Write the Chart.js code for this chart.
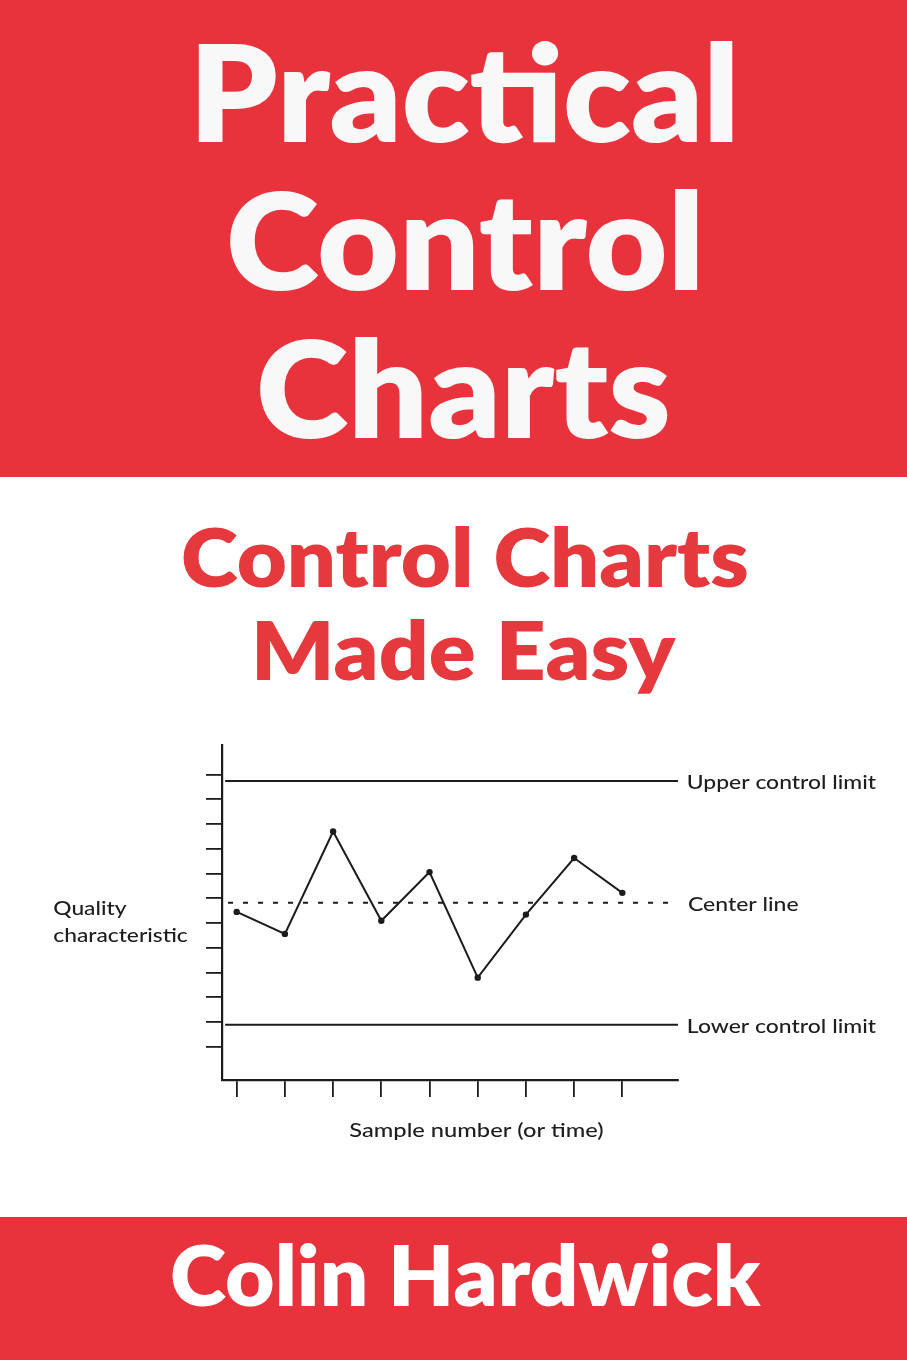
<!DOCTYPE html>
<html>
<head>
<meta charset="utf-8">
<script src="https://cdn.jsdelivr.net/npm/chart.js@4.4.1/dist/chart.umd.min.js"></script>
<style>
  html, body { margin: 0; padding: 0; background: #ffffff; }
  #page { position: relative; width: 907px; height: 1360px; overflow: hidden; background: #ffffff; }
  .band { position: absolute; left: 0; width: 907px; background: #E8333C; }
  .txt { position: absolute; white-space: nowrap; transform-origin: 0 0; margin: 0; padding: 0; }
  #chartBox { position: absolute; left: 0; top: 700px; width: 907px; height: 470px; }
</style>
</head>
<body>
<div id="page">
  <div class="band" style="top:0;height:477px"></div>
  <div class="band" style="top:1217px;height:143px"></div>
  <div id="t1" class="txt">Practical</div>
  <div id="t2" class="txt">Control</div>
  <div id="t3" class="txt">Charts</div>
  <div id="s1" class="txt">Control Charts</div>
  <div id="s2" class="txt">Made Easy</div>
  <div id="a1" class="txt">Colin Hardwick</div>
  <div id="chartBox"><canvas id="c" width="907" height="470"></canvas></div>
</div>
<script>
// ---- data ----
const sampleNumbers = [1, 2, 3, 4, 5, 6, 7, 8, 9];
const qualityValues = [6.45, 5.56, 9.70, 6.09, 8.06, 3.79, 6.34, 8.63, 7.22];
const upperControlLimit = 11.74;
const centerLine = 6.82;
const lowerControlLimit = 1.88;
const limitSpan = [0.76, 10.2];
const centerSpan = [0.82, 10.2];
const yTickValues = [1, 2, 3, 4, 5, 6, 7, 8, 9, 10, 11, 12];
const xTickValues = [1, 2, 3, 4, 5, 6, 7, 8, 9];
const limitLabels = ['Upper control limit', 'Center line', 'Lower control limit'];
const yAxisLabel = ['Quality', 'characteristic'];
const xAxisLabel = 'Sample number (or time)';

const FAMILY = 'Lato';
const INK = '#1c1c1c';
const measurer = document.createElement('canvas').getContext('2d');

function fitMetrics(text, weight, capH, inkWidth) {
  measurer.font = weight + ' 100px ' + FAMILY;
  const capRatio = measurer.measureText('H').actualBoundingBoxAscent / 100;
  const size = capH / capRatio;
  measurer.font = weight + ' ' + size + 'px ' + FAMILY;
  const m = measurer.measureText(text);
  const w = m.actualBoundingBoxLeft + m.actualBoundingBoxRight;
  return { size, sx: inkWidth ? inkWidth / w : 1, m };
}

function placeText(id, weight, capH, inkLeft, baseline, inkWidth, color) {
  const el = document.getElementById(id);
  const text = el.textContent;
  const f = fitMetrics(text, weight, capH, inkWidth);
  const asc = f.m.fontBoundingBoxAscent, desc = f.m.fontBoundingBoxDescent;
  el.style.font = weight + ' ' + f.size + 'px ' + FAMILY;
  el.style.lineHeight = (asc + desc) + 'px';
  el.style.top = (baseline - asc) + 'px';
  el.style.left = (inkLeft + f.m.actualBoundingBoxLeft * f.sx) + 'px';
  el.style.transform = 'scaleX(' + f.sx + ')';
  el.style.color = color;
}

placeText('t1', 800, 99, 198, 142, 534, '#F8F8F8');
placeText('t2', 800, 99, 230, 290, 467, '#F8F8F8');
placeText('t3', 800, 99, 260, 438, 408, '#F8F8F8');
placeText('s1', 800, 60.5, 182.7, 587, 564, '#E6393D');
placeText('s2', 800, 60.5, 256.7, 680, 420, '#E6393D');
placeText('a1', 800, 61.5, 171.7, 1305.5, 589, '#FFFFFF');

// canvas text helper (canvas top = page y 700)
const OFF = 700;
function drawFitted(ctx, text, weight, capH, inkLeft, baseline, inkWidth, color, forced) {
  const f = forced || fitMetrics(text, weight, capH, inkWidth);
  ctx.save();
  ctx.font = weight + ' ' + f.size + 'px ' + FAMILY;
  const m = ctx.measureText(text);
  ctx.fillStyle = color;
  ctx.textBaseline = 'alphabetic';
  ctx.textAlign = 'left';
  ctx.translate(inkLeft + m.actualBoundingBoxLeft * f.sx, baseline);
  ctx.scale(f.sx, 1);
  ctx.fillText(text, 0, 0);
  ctx.restore();
  return f;
}

const labelPlugin = {
  id: 'coverLabels',
  afterDraw(chart) {
    const ctx = chart.ctx;
    const y = chart.scales.y;
    const cap = 14.5;
    const vals = [upperControlLimit, centerLine, lowerControlLimit];
    const widths = [189, 110, 189];
    vals.forEach((v, i) => {
      const py = y.getPixelForValue(v);
      drawFitted(ctx, limitLabels[i], 500, cap, 688, py + cap / 2 + 1, widths[i], '#1e1e1e');
    });
    const f = fitMetrics(yAxisLabel[1], 500, cap, 135);
    drawFitted(ctx, yAxisLabel[0], 500, cap, 53.3, 915 - OFF, 0, '#1e1e1e', f);
    drawFitted(ctx, yAxisLabel[1], 500, cap, 53.3, 941.7 - OFF, 135, '#1e1e1e', f);
    drawFitted(ctx, xAxisLabel, 500, cap, 349.3, 1136.7 - OFF, 254, '#1e1e1e');
  }
};

const lineStyle = { borderColor: INK, pointRadius: 0, tension: 0, fill: false };

new Chart(document.getElementById('c'), {
  type: 'line',
  data: {
    datasets: [
      {
        label: 'Quality characteristic',
        data: sampleNumbers.map((x, i) => ({ x: x, y: qualityValues[i] })),
        borderColor: INK, borderWidth: 2, tension: 0, fill: false,
        pointRadius: 3.2, pointBackgroundColor: INK, pointBorderColor: INK, pointBorderWidth: 0
      },
      Object.assign({ label: 'Upper control limit', borderWidth: 2,
        data: limitSpan.map(x => ({ x: x, y: upperControlLimit })) }, lineStyle),
      Object.assign({ label: 'Center line', borderWidth: 2, borderDash: [5, 10],
        data: centerSpan.map(x => ({ x: x, y: centerLine })) }, lineStyle),
      Object.assign({ label: 'Lower control limit', borderWidth: 2,
        data: limitSpan.map(x => ({ x: x, y: lowerControlLimit })) }, lineStyle)
    ]
  },
  options: {
    responsive: false,
    animation: false,
    events: [],
    layout: { padding: { left: 206, right: 229, top: 45, bottom: 73 } },
    plugins: { legend: { display: false }, tooltip: { enabled: false }, title: { display: false } },
    scales: {
      x: {
        type: 'linear', min: 0.695, max: 10.155,
        afterBuildTicks: s => { s.ticks = xTickValues.map(v => ({ value: v })); },
        afterFit: s => { s.height = 17; },
        ticks: { display: false },
        grid: { display: true, drawOnChartArea: false, drawTicks: true, tickLength: 17, color: INK, lineWidth: 1.8 },
        border: { display: true, color: INK, width: 2.2 }
      },
      y: {
        type: 'linear', min: -0.35, max: 13.2,
        afterBuildTicks: s => { s.ticks = yTickValues.map(v => ({ value: v })); },
        afterFit: s => { s.width = 16; },
        ticks: { display: false },
        grid: { display: true, drawOnChartArea: false, drawTicks: true, tickLength: 16, color: INK, lineWidth: 1.8 },
        border: { display: true, color: INK, width: 2.2 }
      }
    }
  },
  plugins: [labelPlugin]
});
</script>
</body>
</html>
